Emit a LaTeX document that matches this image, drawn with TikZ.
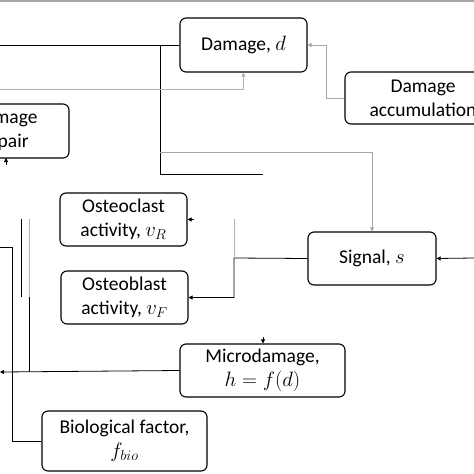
\documentclass[tikz,border=0pt]{standalone}
\usepackage{fontspec}
\setmainfont{Carlito}
\usetikzlibrary{arrows.meta}

\begin{document}
\begin{tikzpicture}[x=1pt, y=-1pt,
	box/.style={draw, rounded corners=6pt, line width=1.1pt, align=center, inner sep=0pt,
		font=\fontsize{19.5}{24}\selectfont},
	tip/.style={-{Triangle[length=4pt,width=4pt]}}]

	\useasboundingbox (0, 0) rectangle (474, 474);
	\clip (0, 0) rectangle (474, 474);
	\fill[gray!70] (0, 0) rectangle (474, 2.3);

	\node (dmg) [box, minimum width=127pt, minimum height=54pt] at (243.5, 45) {Damage, $d$};
	\node (acc) [box, minimum width=156pt, minimum height=52pt] at (423, 98) {Damage\\accumulation};
	\node (rep) [box, minimum width=128pt, minimum height=54pt] at (5, 131) {Damage\\repair};
	\node (clast) [box, minimum width=127pt, minimum height=53pt] at (123.5, 219.5) {Osteoclast\\activity, $v_R$};
	\node (blast) [box, minimum width=127pt, minimum height=53pt] at (124.5, 297.5) {Osteoblast\\activity, $v_F$};
	\node (sig) [box, minimum width=128pt, minimum height=53pt] at (372, 258.5) {Signal, $s$};
	\node (micro) [box, minimum width=165pt, minimum height=53pt] at (262.5, 370.5) {Microdamage,\\$h=f(d)$};
	\node (bio) [box, minimum width=165pt, minimum height=60pt] at (124.5, 441) {Biological factor,\\$f_{bio}$};

	\coordinate (l45) at (0, 45);
	\coordinate (k1) at (160, 45);
	\coordinate (k2) at (263, 174);
	\coordinate (m0) at (263, 337);
	\coordinate (l89) at (0, 89);
	\coordinate (k3) at (326, 98);
	\coordinate (r0) at (6, 165);
	\coordinate (r1) at (6, 158);
	\coordinate (k4) at (234, 258);
	\coordinate (k5) at (234, 219);
	\coordinate (r258) at (474, 258);
	\coordinate (l372) at (0, 372);
	\coordinate (k6) at (29, 219);
	\coordinate (k7) at (21, 219);
	\coordinate (k8) at (21, 297);
	\coordinate (l247) at (0, 247);
	\coordinate (k9) at (12, 247);

	% damage out, to signal and microdamage
	\draw[line width=0.8pt] (dmg.west) -- (l45);
	\draw[line width=0.8pt] (k1) -- (160, 174) -- (k2);
	\draw[tip, gray!70, line width=0.8pt] (160, 152) -| (sig.north);
	\draw[tip, line width=0.6pt] (m0) -- (micro.north -| m0);

	% into damage
	\draw[tip, gray!60, line width=0.8pt] (l89) -| (dmg.south);
	\draw[tip, gray!70, line width=0.8pt] (acc.west) -- (k3) |- (dmg.east);
	\draw[tip, line width=0.6pt] (r0) -- (r1);

	% signal to cells
	\draw[tip, line width=0.8pt] (sig.west) -- (k4) |- (blast.east);
	\draw[gray!60, line width=0.8pt] (k4) -- (k5);
	\draw[tip, line width=0.6pt] ([xshift=6pt]clast.east) -- (clast.east);
	\draw[tip, line width=0.8pt] (r258) -- (sig.east);

	% microdamage and biological factor
	\draw[tip, line width=0.8pt] (micro.west) -- (l372);
	\draw[gray!60, line width=0.8pt] (k6) -- (29, 297);
	\draw[line width=0.8pt] (29, 297) -- (29, 372);
	\draw[line width=0.8pt] (k7) -- (k8);
	\draw[line width=0.8pt] (bio.west) -| (k9) -- (l247);

\end{tikzpicture}
\end{document}
